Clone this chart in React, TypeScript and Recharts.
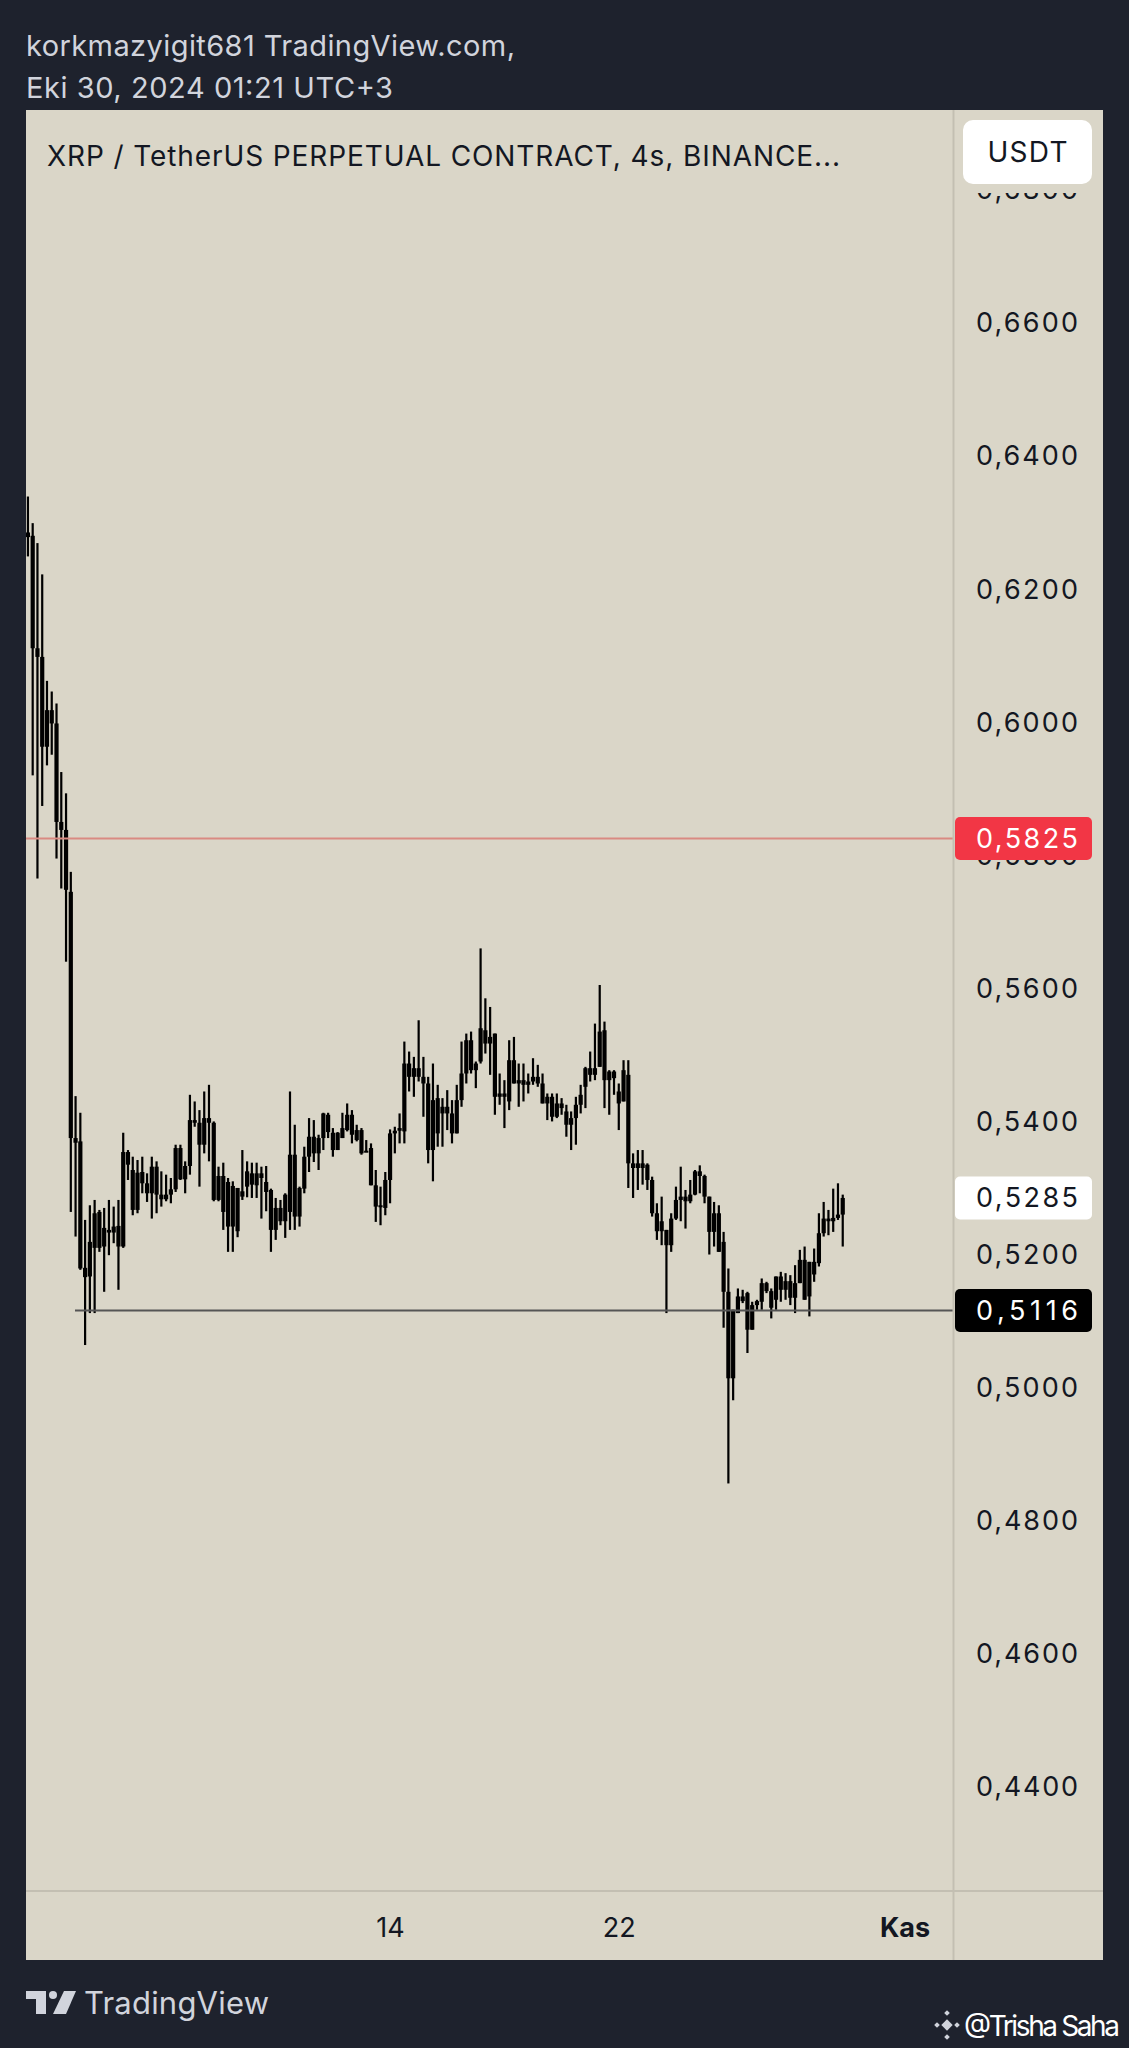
import React from 'react';
import { ComposedChart, Bar, XAxis, YAxis, ReferenceLine } from 'recharts';

// ---- OHLC data (4h bars, XRP/USDT perp) ----
const opens = [
  0.6285, 0.628, 0.6111, 0.6098, 0.5963, 0.6018, 0.5998, 0.585, 0.5838, 0.5745,
  0.5375, 0.537, 0.518, 0.5167, 0.521, 0.5264, 0.5212, 0.5237, 0.5242, 0.5243,
  0.5212, 0.5354, 0.5327, 0.5267, 0.5324, 0.5307, 0.5292, 0.5332, 0.529, 0.5283,
  0.529, 0.5298, 0.536, 0.5313, 0.5333, 0.5402, 0.5398, 0.5365, 0.5405, 0.5398,
  0.5282, 0.5318, 0.5309, 0.5242, 0.53, 0.5287, 0.5302, 0.5322, 0.5304, 0.5322,
  0.5309, 0.5297, 0.5237, 0.527, 0.525, 0.5264, 0.535, 0.5257, 0.5299, 0.5347,
  0.5377, 0.5352, 0.5375, 0.541, 0.5383, 0.5357, 0.539, 0.5387, 0.541, 0.5387,
  0.5387, 0.5356, 0.536, 0.5304, 0.5272, 0.527, 0.5312, 0.5382, 0.5386, 0.5385,
  0.5487, 0.5467, 0.548, 0.5467, 0.5457, 0.5357, 0.5435, 0.5412, 0.5422, 0.5412,
  0.5382, 0.5432, 0.5472, 0.5522, 0.5477, 0.549, 0.5537, 0.5517, 0.5532, 0.5437,
  0.5442, 0.543, 0.5492, 0.5457, 0.5462, 0.5455, 0.546, 0.5467, 0.5457, 0.5427,
  0.5437, 0.5407, 0.5427, 0.5415, 0.5395, 0.5405, 0.5425, 0.5452, 0.548, 0.547,
  0.5482, 0.5537, 0.5462, 0.5475, 0.5445, 0.543, 0.547, 0.5337, 0.533, 0.5337,
  0.5335, 0.5312, 0.5262, 0.5235, 0.5237, 0.5214, 0.5254, 0.5282, 0.5287, 0.528,
  0.529, 0.5325, 0.5318, 0.5287, 0.5234, 0.5262, 0.5219, 0.5144, 0.5014, 0.5112,
  0.5137, 0.5142, 0.5087, 0.5124, 0.5129, 0.5157, 0.5145, 0.5132, 0.5167, 0.5147,
  0.516, 0.5135, 0.5157, 0.5192, 0.5137, 0.5189, 0.5187, 0.5232, 0.5254, 0.525,
  0.5255, 0.526,
];
const highs = [
  0.6339, 0.6299, 0.6269, 0.6222, 0.6062, 0.6046, 0.6028, 0.5925, 0.5893, 0.5775,
  0.5438, 0.5413, 0.5252, 0.5274, 0.5282, 0.5267, 0.527, 0.5282, 0.5272, 0.5282,
  0.5383, 0.5357, 0.5347, 0.5342, 0.5347, 0.5322, 0.5347, 0.534, 0.5325, 0.532,
  0.5315, 0.5365, 0.5365, 0.534, 0.544, 0.543, 0.5417, 0.5445, 0.5455, 0.54,
  0.5332, 0.5338, 0.5315, 0.531, 0.53, 0.5357, 0.534, 0.5338, 0.5338, 0.5332,
  0.5333, 0.5299, 0.5285, 0.5282, 0.5292, 0.5445, 0.5395, 0.5302, 0.5362, 0.5405,
  0.5402, 0.538, 0.5413, 0.5413, 0.539, 0.5384, 0.5413, 0.5427, 0.5417, 0.5395,
  0.539, 0.5372, 0.5367, 0.5327, 0.5302, 0.5324, 0.5388, 0.5392, 0.5412, 0.552,
  0.5505, 0.5497, 0.5552, 0.5497, 0.5467, 0.5487, 0.5455, 0.5435, 0.5447, 0.5432,
  0.5455, 0.552, 0.5532, 0.5535, 0.549, 0.566, 0.5585, 0.5572, 0.5532, 0.5472,
  0.5462, 0.5522, 0.5527, 0.5487, 0.5487, 0.5472, 0.5495, 0.5485, 0.5472, 0.5442,
  0.5442, 0.5442, 0.5435, 0.5425, 0.5415, 0.5437, 0.5455, 0.5482, 0.5505, 0.5547,
  0.5605, 0.555, 0.5477, 0.5477, 0.5457, 0.5492, 0.5492, 0.5352, 0.5357, 0.5357,
  0.5337, 0.5317, 0.5277, 0.5287, 0.5237, 0.5262, 0.5302, 0.5332, 0.5297, 0.5312,
  0.5327, 0.5334, 0.532, 0.5287, 0.5279, 0.5274, 0.5234, 0.5179, 0.5117, 0.5149,
  0.5147, 0.5144, 0.5129, 0.5132, 0.5164, 0.5159, 0.5149, 0.5167, 0.5174, 0.5172,
  0.5169, 0.5184, 0.5207, 0.5212, 0.5189, 0.5209, 0.5262, 0.5279, 0.5267, 0.5299,
  0.5307, 0.529,
];
const lows = [
  0.6249, 0.592, 0.5765, 0.5874, 0.5935, 0.5951, 0.5795, 0.575, 0.564, 0.5264,
  0.5227, 0.5177, 0.5064, 0.5112, 0.5112, 0.5204, 0.5144, 0.5199, 0.5217, 0.5147,
  0.521, 0.5312, 0.5259, 0.5262, 0.5292, 0.5279, 0.5254, 0.5262, 0.5272, 0.528,
  0.5277, 0.5294, 0.5312, 0.5292, 0.532, 0.5392, 0.5302, 0.5352, 0.534, 0.528,
  0.528, 0.5237, 0.5204, 0.5204, 0.5226, 0.5282, 0.5286, 0.5285, 0.5285, 0.5254,
  0.5265, 0.5204, 0.5222, 0.5244, 0.5225, 0.5237, 0.5237, 0.5242, 0.5292, 0.5324,
  0.5339, 0.5327, 0.5357, 0.5375, 0.5347, 0.5357, 0.5375, 0.5385, 0.5367, 0.537,
  0.535, 0.5354, 0.5304, 0.5249, 0.5244, 0.5259, 0.5277, 0.5352, 0.5367, 0.5367,
  0.5445, 0.5437, 0.546, 0.5407, 0.5337, 0.531, 0.5362, 0.5362, 0.5387, 0.5367,
  0.5382, 0.5422, 0.5457, 0.5472, 0.545, 0.5487, 0.5502, 0.547, 0.541, 0.5425,
  0.539, 0.5417, 0.5457, 0.5422, 0.543, 0.5442, 0.5455, 0.5452, 0.5427, 0.5402,
  0.54, 0.5405, 0.541, 0.5377, 0.5357, 0.5365, 0.5412, 0.542, 0.546, 0.5462,
  0.5482, 0.542, 0.541, 0.544, 0.5387, 0.543, 0.53, 0.5285, 0.5297, 0.5305,
  0.5297, 0.5257, 0.5222, 0.5214, 0.5112, 0.5204, 0.5252, 0.525, 0.5239, 0.5277,
  0.5289, 0.5292, 0.5277, 0.52, 0.5212, 0.5204, 0.509, 0.4856, 0.4981, 0.5112,
  0.5127, 0.5052, 0.5087, 0.5117, 0.5117, 0.5142, 0.5104, 0.5117, 0.5129, 0.5132,
  0.5124, 0.5112, 0.5157, 0.5132, 0.5107, 0.5159, 0.5182, 0.5227, 0.5229, 0.5234,
  0.5252, 0.5212,
];
const closes = [
  0.6278, 0.6111, 0.6098, 0.5963, 0.6018, 0.5998, 0.585, 0.5838, 0.5748, 0.5375,
  0.5368, 0.5179, 0.5166, 0.5219, 0.5262, 0.521, 0.524, 0.5233, 0.5233, 0.5212,
  0.5354, 0.5335, 0.5267, 0.5323, 0.5307, 0.5292, 0.5332, 0.529, 0.5283, 0.529,
  0.5298, 0.536, 0.5313, 0.5333, 0.5402, 0.5398, 0.5365, 0.5405, 0.5398, 0.5282,
  0.5318, 0.5264, 0.5242, 0.5303, 0.5235, 0.5295, 0.5325, 0.5305, 0.5322, 0.5315,
  0.5294, 0.5237, 0.527, 0.525, 0.529, 0.535, 0.5257, 0.53, 0.5347, 0.5377,
  0.5352, 0.5375, 0.5412, 0.5384, 0.5357, 0.5383, 0.5375, 0.541, 0.538, 0.5372,
  0.5352, 0.5354, 0.5304, 0.5272, 0.5274, 0.5312, 0.5382, 0.5386, 0.539, 0.5487,
  0.5467, 0.548, 0.5467, 0.5457, 0.5357, 0.5432, 0.5382, 0.5422, 0.5412, 0.5382,
  0.5432, 0.5472, 0.5522, 0.5477, 0.5487, 0.554, 0.5517, 0.5527, 0.5437, 0.5442,
  0.5437, 0.5492, 0.5457, 0.5462, 0.5455, 0.546, 0.5467, 0.5457, 0.5427, 0.5437,
  0.5407, 0.5427, 0.542, 0.5395, 0.5405, 0.5425, 0.544, 0.548, 0.547, 0.548,
  0.5535, 0.5462, 0.5475, 0.5465, 0.5427, 0.5477, 0.5337, 0.533, 0.5337, 0.533,
  0.5312, 0.5262, 0.5235, 0.525, 0.5214, 0.5254, 0.5282, 0.5287, 0.528, 0.529,
  0.5325, 0.5318, 0.5287, 0.5234, 0.5262, 0.5204, 0.5144, 0.5014, 0.5117, 0.5137,
  0.513, 0.5087, 0.5124, 0.513, 0.5157, 0.5145, 0.512, 0.5167, 0.5147, 0.516,
  0.5135, 0.5157, 0.5192, 0.5132, 0.5189, 0.517, 0.5232, 0.5254, 0.525, 0.5255,
  0.526, 0.5285,
];

const priceTicks = [0.44, 0.46, 0.48, 0.5, 0.52, 0.54, 0.56, 0.58, 0.6, 0.62, 0.64, 0.66, 0.68];
const timeTicks = [76, 124, 184];
const timeLabels = ['14', '22', 'Kas'];

const alertPrice = 0.5825;
const supportPrice = 0.5116;
const supportStart = 9.8;
const lastPrice = 0.5285;
const labelPrices = [alertPrice, lastPrice, supportPrice];

const xDomain = [-0.483, 194.27];
const yDomain = [0.42436, 0.69198];

const CHART_W = 1129;
const CHART_H = 2048;
const MARGIN = { top: 110, left: 26, right: 26, bottom: 88 };
const X_AXIS_H = 69;
const PLOT_H = CHART_H - MARGIN.top - MARGIN.bottom - X_AXIS_H;
const PX_PER_UNIT = PLOT_H / (yDomain[1] - yDomain[0]);
const LABEL_H = 43;

const data = opens.map((o, i) => ({
  i,
  o,
  h: highs[i],
  l: lows[i],
  c: closes[i],
  range: [lows[i], highs[i]],
}));

const fmt = (v: number) => v.toFixed(4).replace('.', ',');
const FONT = 'Inter, "Noto Sans", "DejaVu Sans", sans-serif';
const PANEL_BG = '#dad6c8';

const Candle = (props: any) => {
  const { x, y, width, height, payload } = props;
  if (x == null || y == null) return null;
  const top = Math.min(y, y + height);
  const hgt = Math.abs(height);
  const span = payload.h - payload.l || 1e-9;
  const ppu = hgt / span;
  const bodyTop = top + (payload.h - Math.max(payload.o, payload.c)) * ppu;
  let bodyH = Math.abs(payload.o - payload.c) * ppu;
  if (bodyH < 2) bodyH = 2;
  const cx = x + width / 2;
  return (
    <g>
      <rect x={cx - 1.1} y={top} width={2.2} height={Math.max(hgt, 1)} fill="#000" />
      <rect x={cx - 2.1} y={bodyTop} width={4.2} height={bodyH} fill="#000" />
    </g>
  );
};

const PriceTick = (props: any) => {
  const { x, y, payload } = props;
  const v = payload.value;
  // hide the part of a tick label that sits under a price label box
  let clip: { y: number; h: number } | null = null;
  for (const p of labelPrices) {
    const ly = y + (v - p) * PX_PER_UNIT;
    const boxTop = ly - LABEL_H / 2;
    const boxBottom = ly + LABEL_H / 2;
    if (boxBottom > y - 14 && boxTop < y + 14) {
      if (ly < y) clip = { y: boxBottom, h: 40 };
      else clip = { y: y - 40, h: boxTop - (y - 40) };
    }
  }
  const id = `tclip-${String(v).replace('.', '_')}`;
  return (
    <g>
      {clip && (
        <defs>
          <clipPath id={id}>
            <rect x={x} y={clip.y} width={150} height={Math.max(clip.h, 0)} />
          </clipPath>
        </defs>
      )}
      <text
        x={x + 73}
        y={y + 9.5}
        textAnchor="middle"
        fontSize={27}
        fill="#131722"
        fontFamily={FONT}
        textLength={102}
        lengthAdjust="spacing"
        clipPath={clip ? `url(#${id})` : undefined}
      >
        {fmt(v)}
      </text>
    </g>
  );
};

const TimeTick = (props: any) => {
  const { x, y, payload } = props;
  const idx = timeTicks.indexOf(payload.value);
  const label = timeLabels[idx] ?? '';
  const bold = label === 'Kas';
  return (
    <text
      x={x}
      y={y + 46}
      textAnchor="middle"
      fontSize={27}
      fontWeight={bold ? 700 : 400}
      fill="#131722"
      fontFamily={FONT}
    >
      {label}
    </text>
  );
};

const priceLabel = (text: string, bg: string, fg: string) => (p: any) => {
  const vb = p.viewBox || {};
  const right = (vb.x || 0) + (vb.width || 0);
  const cy = vb.y || 0;
  return (
    <g>
      <rect x={right + 1} y={cy - LABEL_H / 2} width={137} height={LABEL_H} rx={5} fill={bg} />
      <text
        x={right + 73}
        y={cy + 9.5}
        textAnchor="middle"
        fontSize={27}
        fill={fg}
        fontFamily={FONT}
        textLength={102}
        lengthAdjust="spacing"
      >
        {text}
      </text>
    </g>
  );
};

export default function App() {
  return (
    <div
      style={{
        position: 'absolute',
        left: 0,
        top: 0,
        width: CHART_W,
        height: CHART_H,
        background: '#1e222d',
        overflow: 'hidden',
        fontFamily: FONT,
      }}
    >
      <div
        style={{
          position: 'absolute',
          left: 26,
          top: 110,
          width: 1077,
          height: 1850,
          background: PANEL_BG,
        }}
      />
      <div style={{ position: 'absolute', left: 0, top: 0 }}>
        <ComposedChart width={CHART_W} height={CHART_H} data={data} margin={MARGIN}>
          <XAxis
            dataKey="i"
            type="number"
            domain={xDomain}
            allowDataOverflow
            ticks={timeTicks}
            interval={0}
            height={X_AXIS_H}
            tickSize={0}
            tickMargin={0}
            axisLine={false}
            tickLine={false}
            tick={<TimeTick />}
          />
          <YAxis
            orientation="right"
            type="number"
            domain={yDomain}
            allowDataOverflow
            ticks={priceTicks}
            interval={0}
            width={149}
            tickSize={0}
            tickMargin={0}
            axisLine={false}
            tickLine={false}
            tick={<PriceTick />}
          />
          <ReferenceLine y={alertPrice} stroke="#d98a82" strokeWidth={2} />
          <ReferenceLine
            segment={[
              { x: supportStart, y: supportPrice },
              { x: xDomain[1], y: supportPrice },
            ]}
            stroke="#555555"
            strokeWidth={2}
          />
          <Bar dataKey="range" shape={<Candle />} barSize={4} isAnimationActive={false} />
          <ReferenceLine
            y={alertPrice}
            stroke="none"
            label={priceLabel(fmt(alertPrice), '#f23645', '#ffffff')}
          />
          <ReferenceLine
            y={lastPrice}
            stroke="none"
            label={priceLabel(fmt(lastPrice), '#ffffff', '#131722')}
          />
          <ReferenceLine
            y={supportPrice}
            stroke="none"
            label={priceLabel(fmt(supportPrice), '#000000', '#ffffff')}
          />
        </ComposedChart>
      </div>
      <svg
        width={CHART_W}
        height={CHART_H}
        style={{ position: 'absolute', left: 0, top: 0, pointerEvents: 'none' }}
      >
        <text x={26} y={56} fontSize={29} fill="#d1d4dc" fontFamily={FONT} textLength={489} lengthAdjust="spacing">
          korkmazyigit681 TradingView.com,
        </text>
        <text x={26} y={98} fontSize={29} fill="#d1d4dc" fontFamily={FONT} textLength={367} lengthAdjust="spacing">
          Eki 30, 2024 01:21 UTC+3
        </text>
        <text x={47} y={166} fontSize={28} fill="#131722" fontFamily={FONT} textLength={793} lengthAdjust="spacing">
          XRP / TetherUS PERPETUAL CONTRACT, 4s, BINANCE...
        </text>
        <line x1={953.5} y1={110} x2={953.5} y2={1960} stroke="#c3bfb2" strokeWidth={2} />
        <line x1={26} y1={1891} x2={1103} y2={1891} stroke="#c3bfb2" strokeWidth={2} />
        <rect x={955} y={111} width={147} height={82} fill={PANEL_BG} />
        <rect x={963} y={120} width={129} height={64} rx={10} fill="#ffffff" />
        <text x={1027.5} y={162} textAnchor="middle" fontSize={28} fill="#131722" fontFamily={FONT} textLength={80} lengthAdjust="spacing">
          USDT
        </text>
        {/* footer */}
        <path d="M26 1991 H46 V2014 H36 V1999 H26 Z" fill="#d1d4dc" />
        <circle cx={53} cy={1995} r={4} fill="#d1d4dc" />
        <path d="M64 1991 H76 L66 2014 H53 Z" fill="#d1d4dc" />
        <text x={84} y={2014} fontSize={31} fill="#d1d4dc" fontFamily={FONT} textLength={185} lengthAdjust="spacing">
          TradingView
        </text>
        <g fill="#d1d4dc">
          <rect x={943} y={2021} width={8} height={8} transform="rotate(45 947 2025)" />
          <rect x={945} y={2011} width={4} height={4} transform="rotate(45 947 2013)" />
          <rect x={945} y={2035} width={4} height={4} transform="rotate(45 947 2037)" />
          <rect x={935} y={2023} width={4} height={4} transform="rotate(45 937 2025)" />
          <rect x={955} y={2023} width={4} height={4} transform="rotate(45 957 2025)" />
        </g>
        <text x={964} y={2036} fontSize={28} fill="#ffffff" fontFamily={FONT} textLength={156} lengthAdjust="spacing">
          @Trisha Saha
        </text>
      </svg>
    </div>
  );
}
